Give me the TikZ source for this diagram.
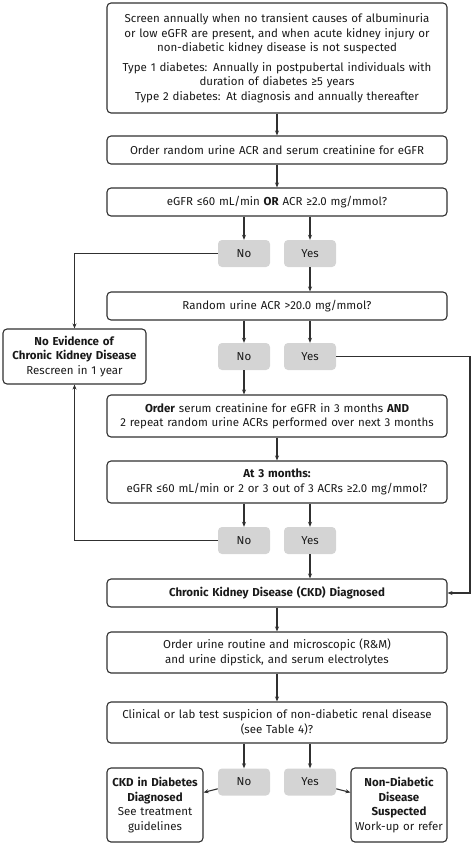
\documentclass[tikz,border=0pt]{standalone}
\usepackage{fontspec}
\setmainfont{Fira Sans}
\usepackage{xcolor}
\usepackage{tikz}
\usetikzlibrary{shapes,calc}
\usetikzlibrary{arrows.meta}

\definecolor{lineGray}{HTML}{303030}
\definecolor{pillGray}{HTML}{D4D4D4}

\begin{document}
\begin{tikzpicture} [x=1pt, y=-1pt,
        every node/.style={font=\fontsize{11.5}{14.5}\selectfont, text=black!90},
        box/.style={draw=lineGray, line width=1.1pt, rounded corners=4pt,
                    minimum width=340pt, text width=334pt, align=center, inner sep=2pt},
        sidebox/.style={draw=lineGray, line width=1.1pt, rounded corners=4pt,
                    minimum width=96pt, minimum height=74pt, text width=94pt, align=center, inner sep=1pt},
        pill/.style={fill=pillGray, rounded corners=4pt, minimum width=52pt, minimum height=27pt, inner sep=0pt},
        arr/.style={draw=lineGray, line width=1.1pt, -{Stealth[length=5pt,width=4pt]}}]
        \useasboundingbox (0,0) rectangle (474,844);

        % Main column
        \node[box, minimum height=110pt] (screen) at (277,58) {Screen annually when no transient causes of albuminuria\\
            or low eGFR are present, and when acute kidney injury or\\
            non-diabetic kidney disease is not suspected\\[5pt]
            Type 1 diabetes: Annually in postpubertal individuals with\\
            duration of diabetes ≥5 years\\
            Type 2 diabetes: At diagnosis and annually thereafter};
        \node[box, minimum height=28pt] (order) at (277,150) {Order random urine ACR and serum creatinine for eGFR};
        \node[box, minimum height=28pt] (egfr) at (277,202) {eGFR ≤60 mL/min \textbf{OR} ACR ≥2.0 mg/mmol?};
        \node[box, minimum height=28pt] (random) at (277,306) {Random urine ACR >20.0 mg/mmol?};
        \node[box, minimum height=42pt] (repeat) at (277,416) {\textbf{Order} serum creatinine for eGFR in 3 months \textbf{AND}\\
            2 repeat random urine ACRs performed over next 3 months};
        \node[box, minimum height=42pt] (three) at (277,482) {\textbf{At 3 months:}\\
            eGFR ≤60 mL/min or 2 or 3 out of 3 ACRs ≥2.0 mg/mmol?};
        \node[box, minimum height=28pt] (ckd) at (277,593) {\textbf{Chronic Kidney Disease (CKD) Diagnosed}};
        \node[box, minimum height=41pt] (routine) at (277,652.5) {Order urine routine and microscopic (R\&M)\\
            and urine dipstick, and serum electrolytes};
        \node[box, minimum height=41pt] (clinical) at (277,722.5) {Clinical or lab test suspicion of non-diabetic renal disease\\
            (see Table 4)?};

        % No / Yes answers
        \node[pill] (no1) at (244,253.5) {No};
        \node[pill] (yes1) at (310,253.5) {Yes};
        \node[pill] (no2) at (244,356.5) {No};
        \node[pill] (yes2) at (310,356.5) {Yes};
        \node[pill] (no3) at (244,540.5) {No};
        \node[pill] (yes3) at (310,540.5) {Yes};
        \node[pill] (no4) at (244,782) {No};
        \node[pill] (yes4) at (310,782) {Yes};

        % Outcome boxes
        \node[sidebox, minimum width=143pt, minimum height=55pt, text width=141pt] (noev) at (74.5,356.5) {\textbf{No Evidence of}\\
            \textbf{Chronic Kidney Disease}\\
            Rescreen in 1 year};
        \node[sidebox] (ckddm) at (155,805) {\textbf{CKD in Diabetes}\\
            \textbf{Diagnosed}\\
            See treatment\\
            guidelines};
        \node[sidebox] (nondm) at (399,805) {\textbf{Non-Diabetic}\\
            \textbf{Disease}\\
            \textbf{Suspected}\\
            Work-up or refer};

        \coordinate (rside) at (470,356.5);

        % Connectors
        \draw[arr] (screen) -- (order);
        \draw[arr] (order) -- (egfr);
        \draw[arr] (egfr.south -| no1) -- (no1);
        \draw[arr] (egfr.south -| yes1) -- (yes1);
        \draw[arr] (no1.west) -| (noev.north);
        \draw[arr] (yes1) -- (yes1 |- random.north);
        \draw[arr] (random.south -| no2) -- (no2);
        \draw[arr] (random.south -| yes2) -- (yes2);
        \draw[arr] (no2) -- (no2 |- repeat.north);
        \draw[arr] (yes2.east) -- (rside) |- (ckd.east);
        \draw[arr] (repeat) -- (three);
        \draw[arr] (three.south -| no3) -- (no3);
        \draw[arr] (three.south -| yes3) -- (yes3);
        \draw[arr] (no3.west) -| (noev.south);
        \draw[arr] (yes3) -- (yes3 |- ckd.north);
        \draw[arr] (ckd) -- (routine);
        \draw[arr] (routine) -- (clinical);
        \draw[arr] (clinical.south -| no4) -- (no4);
        \draw[arr] (clinical.south -| yes4) -- (yes4);
        \draw[arr] (no4) -- (ckddm);
        \draw[arr] (yes4) -- (nondm);

    \end{tikzpicture}
\end{document}
